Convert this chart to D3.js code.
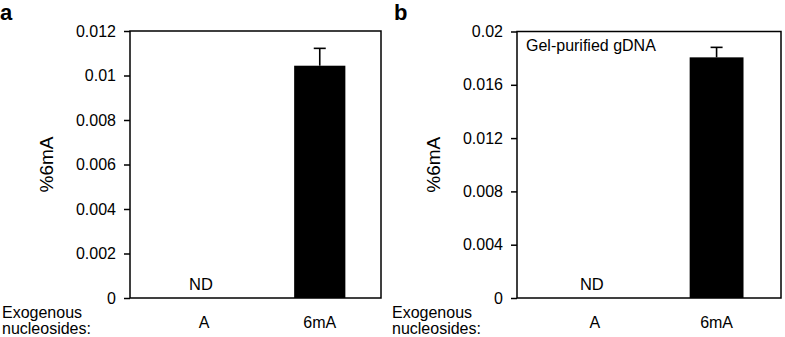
<!DOCTYPE html>
<html>
<head>
<meta charset="utf-8">
<script src="https://cdn.jsdelivr.net/npm/d3@7"></script>
<style>
  html, body { margin: 0; padding: 0; background: #fff; }
  svg { display: block; font-family: "Liberation Sans", Arial, Helvetica, sans-serif; }
</style>
</head>
<body>
<svg id="chart" width="785" height="337"></svg>
<script>
// categories on the x axis
const categories = ['A', '6mA'];

// panel a: whole gDNA
const valuesA = [null, 0.01044];   // null = not detected
const errorsA = [null, 0.00078];
const ticksA = [0, 0.002, 0.004, 0.006, 0.008, 0.01, 0.012];
const tickLabelsA = ['0', '0.002', '0.004', '0.006', '0.008', '0.01', '0.012'];

// panel b: gel-purified gDNA
const valuesB = [null, 0.01806];
const errorsB = [null, 0.00075];
const ticksB = [0, 0.004, 0.008, 0.012, 0.016, 0.02];
const tickLabelsB = ['0', '0.004', '0.008', '0.012', '0.016', '0.02'];

const svg = d3.select('#chart');

function drawPanel(cfg) {
  const { left, right, top, bottom } = cfg.box;
  const w = right - left;
  const g = svg.append('g');

  const x = d3.scalePoint().domain(categories).range([left + w * 0.295, left + w * 0.756]);
  const y = d3.scaleLinear().domain([0, cfg.ticks[cfg.ticks.length - 1]]).range([bottom, top]);
  const barW = w * 0.204;

  // bars (null = ND label instead of a bar)
  cfg.values.forEach((v, i) => {
    const cx = x(categories[i]);
    if (v == null) {
      g.append('text')
        .attr('x', cx - 3).attr('y', bottom - 8)
        .attr('text-anchor', 'middle')
        .attr('font-size', 16.5)
        .text('ND');
      return;
    }
    g.append('rect')
      .attr('x', cx - barW / 2).attr('y', y(v))
      .attr('width', barW).attr('height', y(0) - y(v))
      .attr('fill', '#000');
    const e = cfg.errors[i];
    g.append('line')
      .attr('x1', cx).attr('x2', cx)
      .attr('y1', y(v)).attr('y2', y(v + e))
      .attr('stroke', '#000').attr('stroke-width', 1.6);
    g.append('line')
      .attr('x1', cx - 6).attr('x2', cx + 6)
      .attr('y1', y(v + e)).attr('y2', y(v + e))
      .attr('stroke', '#000').attr('stroke-width', 1.6);
  });

  // frame
  g.append('rect')
    .attr('x', left).attr('y', top)
    .attr('width', w).attr('height', bottom - top)
    .attr('fill', 'none').attr('stroke', '#000').attr('stroke-width', 1.5);

  // y axis
  const axis = d3.axisLeft(y)
    .tickValues(cfg.ticks)
    .tickFormat((d, i) => cfg.tickLabels[i])
    .tickSize(6).tickPadding(8);
  const ag = g.append('g').attr('transform', `translate(${left},0)`).call(axis);
  ag.select('.domain').remove();
  ag.selectAll('.tick line').attr('stroke', '#000').attr('stroke-width', 1.5);
  ag.selectAll('.tick text')
    .attr('font-family', '"Liberation Sans", Arial, sans-serif')
    .attr('font-size', 16).attr('fill', '#000');

  // y label
  g.append('text')
    .attr('transform', `translate(${left - 77},${(top + bottom) / 2}) rotate(-90)`)
    .attr('text-anchor', 'middle')
    .attr('font-size', 19)
    .text('%6mA');

  // category labels
  categories.forEach((c) => {
    g.append('text')
      .attr('x', x(c)).attr('y', 328)
      .attr('text-anchor', 'middle')
      .attr('font-size', 16)
      .text(c);
  });

  // exogenous nucleosides caption
  const cap = g.append('text').attr('font-size', 16);
  cap.append('tspan').attr('x', cfg.captionX).attr('y', 318).text('Exogenous');
  cap.append('tspan').attr('x', cfg.captionX).attr('y', 334).text('nucleosides:');

  // panel letter
  g.append('text')
    .attr('x', cfg.letterX).attr('y', 20)
    .attr('font-size', 22).attr('font-weight', 'bold')
    .text(cfg.letter);

  if (cfg.note) {
    g.append('text')
      .attr('x', left + 9).attr('y', 51)
      .attr('font-size', 16)
      .text(cfg.note);
  }
}

drawPanel({
  box: { left: 130, right: 381, top: 31, bottom: 298 },
  values: valuesA, errors: errorsA, ticks: ticksA, tickLabels: tickLabelsA,
  letter: 'a', letterX: 0, captionX: 2
});

drawPanel({
  box: { left: 517, right: 781, top: 31.5, bottom: 298 },
  values: valuesB, errors: errorsB, ticks: ticksB, tickLabels: tickLabelsB,
  letter: 'b', letterX: 394, captionX: 392, note: 'Gel-purified gDNA'
});
</script>
</body>
</html>
